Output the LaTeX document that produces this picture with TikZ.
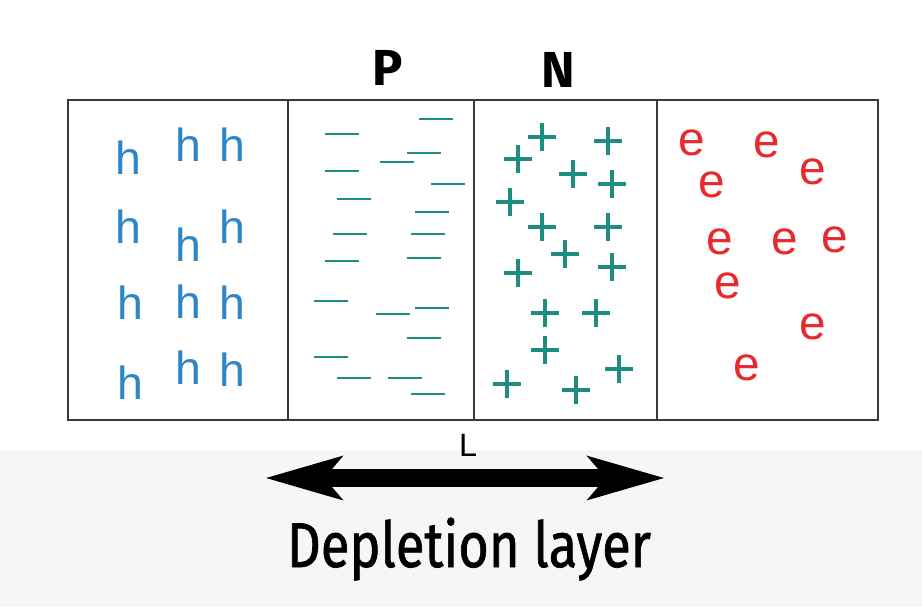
\documentclass[tikz,border=0pt]{standalone}
\usepackage{fontspec}
\setmainfont{Liberation Sans}
\newfontfamily\headfont{Fira Sans}
\newfontfamily\deplfont[FakeBold=1.2]{Fira Sans}
\usepackage{tikz}
\usetikzlibrary{
  arrows.meta,
}
\definecolor{holeblue}{HTML}{2F86C6}
\definecolor{ionteal}{HTML}{1E8C80}
\definecolor{elecred}{HTML}{E82A2E}
\definecolor{boxline}{HTML}{3A3A3A}
\definecolor{bandgray}{HTML}{F6F6F6}
\tikzset{
  region/.style={
    draw=boxline, line width=1.8pt,
  },
  hole/.style={
    inner sep=0pt, text=holeblue, font=\fontsize{33}{33}\selectfont,
  },
  electron/.style={
    inner sep=0pt, text=elecred, font=\fontsize{34}{34}\selectfont,
  },
  negion/.style={
    draw=ionteal, line width=2pt,
  },
  posion/.style={
    draw=ionteal, line width=2.4pt,
  },
  sidelabel/.style={
    inner sep=0pt, font=\headfont\bfseries\fontsize{36}{36}\selectfont,
  },
  arrowDepl/.style={
    {Stealth[length=54pt,width=30pt,inset=12pt]}-{Stealth[length=54pt,width=30pt,inset=12pt]},
    line width=12.5pt, draw=black,
  },
}

\begin{document}
\begin{tikzpicture}[x=0.025cm, y=-0.025cm]

\useasboundingbox (0,0) rectangle (922,607);
\fill[white] (0,0) rectangle (922,450);
\fill[bandgray] (0,450) rectangle (922,607);

% the four regions
\draw[region] (68,100) rectangle (878,420);
\draw[region] (288,100) -- (288,420);
\draw[region] (474,100) -- (474,420);
\draw[region] (657,100) -- (657,420);

% P and N labels
\node[sidelabel] (plabel) at (388,68) {P};
\node[sidelabel] (nlabel) at (558,70) {N};

% holes in the p side
\foreach \x/\y [count=\i] in {128/158, 188/145, 232/145,
                              128/227, 188/245, 232/227,
                              130/303, 188/302, 232/303,
                              130/383, 188/368, 232/370}
{
  \node[hole] (h\i) at (\x,\y) {h};
}

% fixed negative ions
\foreach \x/\y in {436/119, 342/134, 424/153, 397/162, 342/171,
                   448/184, 354/199, 432/212, 350/234, 428/234,
                   342/261, 424/258, 331/301, 432/308, 393/314,
                   424/338, 331/357, 354/378, 405/378, 428/394}
{
  \draw[negion] (\x-17,\y) -- ++(34,0);
}

% fixed positive ions
\foreach \x/\y in {542/137, 608/141, 518/159, 573/174, 612/184,
                   510/202, 542/227, 608/227, 565/254, 612/267,
                   518/273, 545/313, 596/313, 545/350, 619/369,
                   507/384, 576/390}
{
  \draw[posion] (\x-14,\y) -- ++(28,0) (\x,\y-14) -- ++(0,28);
}

% electrons in the n side
\foreach \x/\y [count=\i] in {692/143, 767/145, 813/172, 712/185,
                              720/242, 785/242, 835/240, 728/286,
                              813/327, 747/368}
{
  \node[electron] (e\i) at (\x,\y) {e};
}

% depletion width
\coordinate (dleft) at (265,478);
\coordinate (dright) at (665,478);
\draw[arrowDepl] (dleft) -- (dright);
\node[inner sep=0pt, font=\fontsize{23}{23}\selectfont] (wlabel) at (468,445) {L};
\node[anchor=base, inner sep=0pt, font=\deplfont\fontsize{45}{45}\selectfont]
  (deplabel) at (469,567) {\scalebox{0.83}[1]{Depletion layer}};

\end{tikzpicture}
\end{document}
